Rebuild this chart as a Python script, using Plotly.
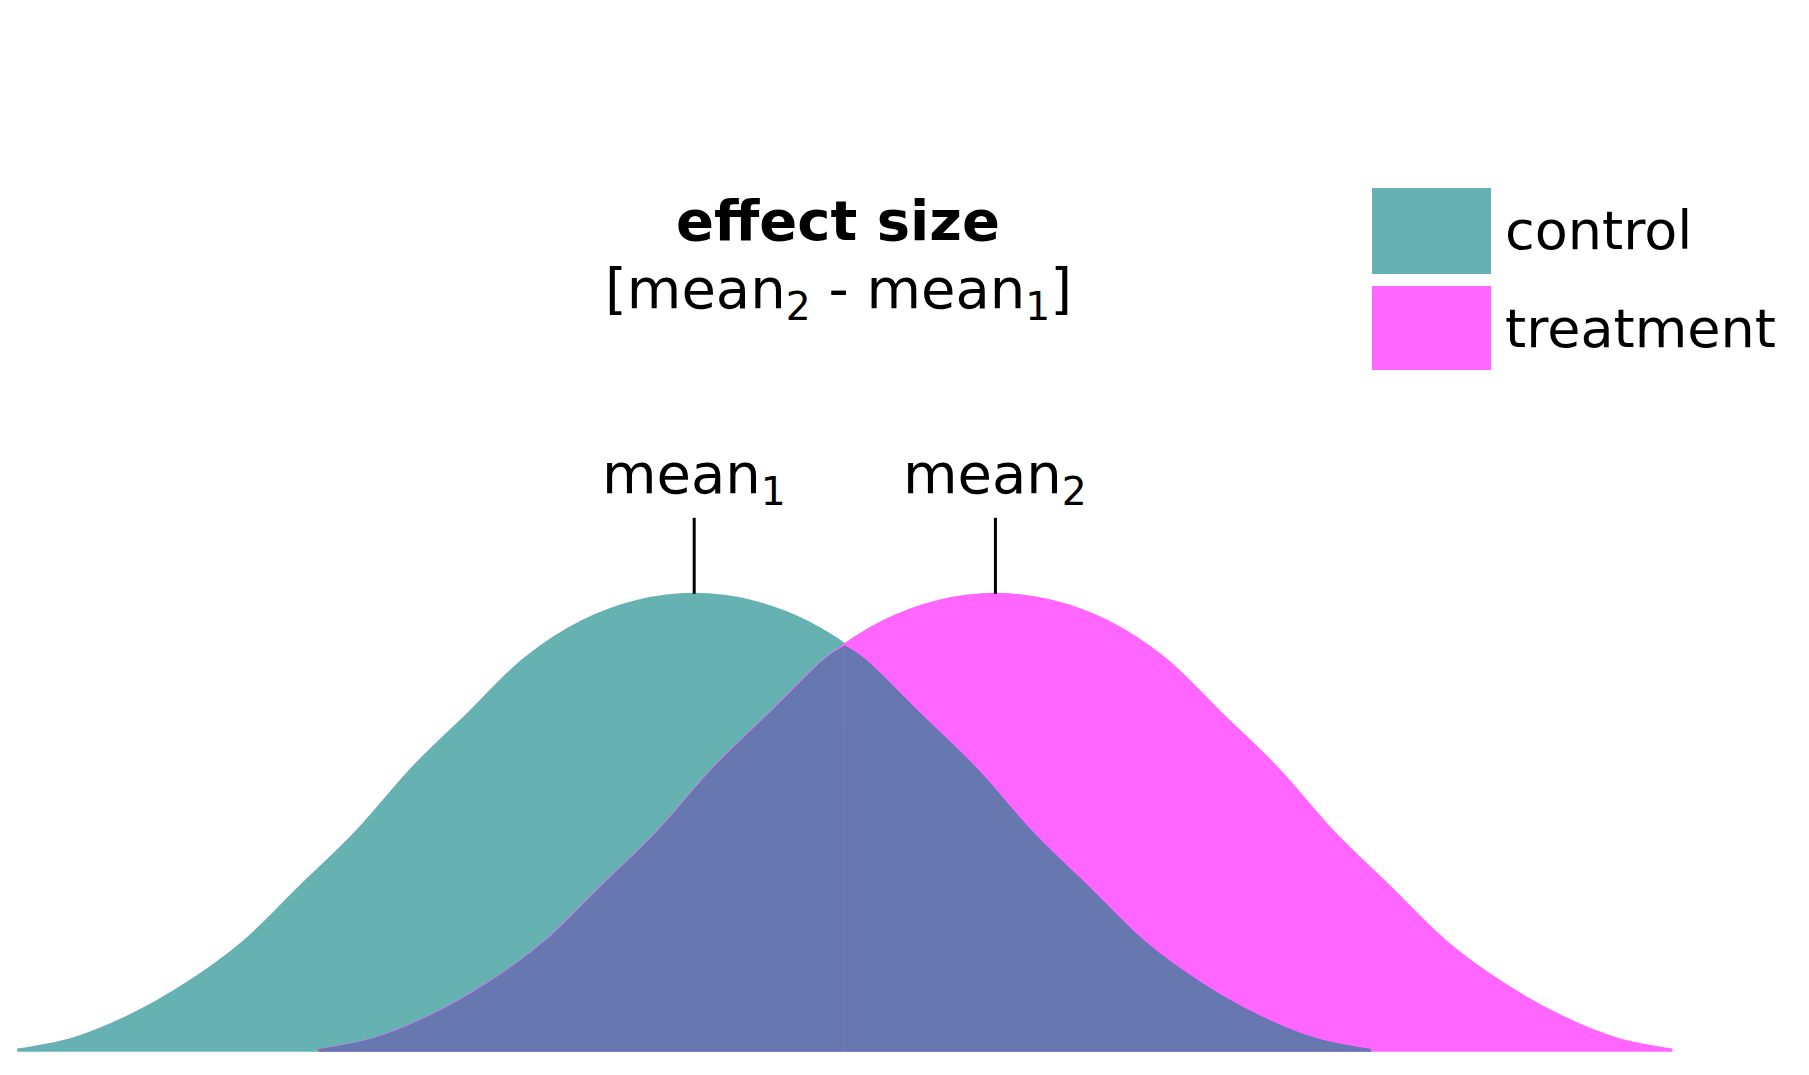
import numpy as np
import plotly.graph_objects as go

# density (relative to peak), at offsets from the mean
offsets = [-3.0, -2.75, -2.5, -2.25, -2.0, -1.75, -1.5, -1.25, -1.0, -0.75, -0.5, -0.25,
           0.0, 0.25, 0.5, 0.75, 1.0, 1.25, 1.5, 1.75, 2.0, 2.25, 2.5, 2.75, 3.0]
density = [0.005, 0.03, 0.08, 0.15, 0.24, 0.36, 0.48, 0.62, 0.74, 0.86, 0.94, 0.985,
           1.0, 0.985, 0.94, 0.86, 0.74, 0.62, 0.48, 0.36, 0.24, 0.15, 0.08, 0.03, 0.005]
mean1 = 0.0
mean2 = 1.335
labels = ["control", "treatment"]
colors = ["#66b2b2", "#ff66ff"]
overlap_color = "#6777b0"

off = np.array(offsets)
dens = np.array(density)
x1 = mean1 + off
x2 = mean2 + off

# overlap = min of both curves: treatment's left flank then control's right flank
mid = (mean1 + mean2) / 2
cross = np.interp(mid - mean1, off, dens)

fig = go.Figure()
for xs, c in [(x1, colors[0]), (x2, colors[1])]:
    fig.add_trace(go.Scatter(x=xs, y=dens, mode="lines", fill="tozeroy",
                             fillcolor=c, line=dict(color=c, width=2, shape="spline")))
left = x2 < mid
right = x1 > mid
for xs, ys in [(np.append(x2[left], mid), np.append(dens[left], cross)),
               (np.insert(x1[right], 0, mid), np.insert(dens[right], 0, cross))]:
    fig.add_trace(go.Scatter(x=xs, y=ys, mode="lines", fill="tozeroy",
                             fillcolor=overlap_color,
                             line=dict(color=overlap_color, width=1, shape="spline")))

font = "DejaVu Sans, sans-serif"
for m, lab in [(mean1, "mean<sub>1</sub>"), (mean2, "mean<sub>2</sub>")]:
    fig.add_shape(type="line", x0=m, x1=m, y0=1.0, y1=1.166, line=dict(color="black", width=3))
    fig.add_annotation(x=m, y=1.17, text=lab, showarrow=False, yanchor="bottom",
                       font=dict(size=56, color="black", family=font))

fig.add_annotation(x=830 / 1809, y=1 - 212 / 1075, xref="paper", yref="paper", showarrow=False,
                   yanchor="middle", text="<b>effect size</b>",
                   font=dict(size=56, color="black", family=font))
fig.add_annotation(x=830 / 1809, y=1 - 284 / 1075, xref="paper", yref="paper", showarrow=False,
                   yanchor="middle", text="[mean<sub>2</sub> - mean<sub>1</sub>]",
                   font=dict(size=56, color="black", family=font))

boxes = [(180, 266), (278, 362)]
for (t, b), lab, c in zip(boxes, labels, colors):
    fig.add_shape(type="rect", xref="paper", yref="paper", x0=1364 / 1809, x1=1483 / 1809,
                  y0=1 - b / 1075, y1=1 - t / 1075, fillcolor=c, line=dict(width=0))
    fig.add_annotation(x=1495 / 1809, y=1 - (t + b) / 2 / 1075, xref="paper", yref="paper",
                       text=lab, showarrow=False, xanchor="left", yanchor="middle",
                       font=dict(size=54, color="black", family=font))

fig.update_layout(
    width=1809, height=1075, margin=dict(l=0, r=0, t=0, b=0),
    paper_bgcolor="white", plot_bgcolor="white", showlegend=False,
    xaxis=dict(range=[-3.041, 4.976], visible=False),
    yaxis=dict(range=[-0.068, 2.279], visible=False),
)
fig.write_html("out.html")
